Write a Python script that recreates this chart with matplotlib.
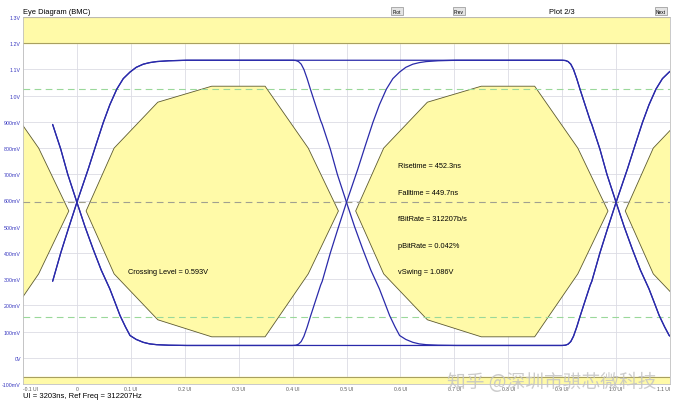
import numpy as np
import matplotlib
matplotlib.use("Agg")
from matplotlib import pyplot as plt
from matplotlib.patches import Polygon

plt.rcParams['font.family'] = ['Liberation Sans', 'DejaVu Sans']

# ---- data ----
x_ticks = [-0.1, 0, 0.1, 0.2, 0.3, 0.4, 0.5, 0.6, 0.7, 0.8, 0.9, 1.0, 1.1]
x_labels = ['-0.1 UI', '0', '0.1 UI', '0.2 UI', '0.3 UI', '0.4 UI', '0.5 UI',
            '0.6 UI', '0.7 UI', '0.8 UI', '0.9 UI', '1.0 UI', '1.1 UI']
y_ticks = [-0.1, 0, 0.1, 0.2, 0.3, 0.4, 0.5, 0.6, 0.7, 0.8, 0.9, 1.0, 1.1, 1.2, 1.3]
y_labels = ['-100mV', '0V', '100mV', '200mV', '300mV', '400mV', '500mV', '600mV',
            '700mV', '800mV', '900mV', '1.0V', '1.1V', '1.2V', '1.3V']

# edge shapes, time relative to crossing (UI) and volts
rise_dt = [-0.100, -0.094, -0.089, -0.084, -0.079, -0.073, -0.067, -0.058, -0.048, -0.045,
           -0.030, -0.017, 0.0, 0.021, 0.035, 0.049, 0.061, 0.074, 0.086, 0.0985,
           0.110, 0.123, 0.135, 0.148, 0.170, 0.204]
rise_v = [0.047, 0.048, 0.052, 0.062, 0.082, 0.117, 0.157, 0.214, 0.277, 0.292,
          0.400, 0.485, 0.593, 0.720, 0.810, 0.898, 0.965, 1.025, 1.065, 1.090,
          1.108, 1.120, 1.126, 1.130, 1.133, 1.135]
fall_dt = [-0.100, -0.094, -0.089, -0.084, -0.079, -0.073, -0.067, -0.058, -0.048, -0.045,
           -0.030, -0.017, 0.0, 0.015, 0.030, 0.045, 0.061, 0.070, 0.080, 0.090,
           0.0985, 0.110, 0.123, 0.135, 0.148, 0.170, 0.204]
fall_v = [1.135, 1.134, 1.130, 1.120, 1.100, 1.065, 1.025, 0.968, 0.905, 0.890,
          0.796, 0.700, 0.593, 0.500, 0.415, 0.335, 0.263, 0.215, 0.161, 0.118,
          0.085, 0.070, 0.059, 0.053, 0.050, 0.048, 0.047]

# BMC traces: list of (crossing time, edge type)
traces = [
    [(0.0, 'r'), (1.0, 'f')],
    [(0.0, 'r'), (0.5, 'f'), (1.0, 'r')],
    [(0.0, 'f'), (1.0, 'r')],
    [(0.0, 'f'), (0.5, 'r'), (1.0, 'f')],
]
trace_start = -0.045

# eye mask (one eye), UI and volts
mask_x = [0.017, 0.069, 0.150, 0.250, 0.349, 0.429, 0.485, 0.429, 0.349, 0.250, 0.150, 0.069]
mask_v = [0.560, 0.800, 0.975, 1.036, 1.036, 0.800, 0.560, 0.320, 0.080, 0.080, 0.145, 0.320]
mask_offsets = [-0.5, 0.0, 0.5, 1.0]

crossing_level = 0.593
level_90 = 1.027
level_10 = 0.157

stats = ['Risetime = 452.3ns', 'Falltime = 449.7ns', 'fBitRate = 312207b/s',
         'pBitRate = 0.042%', 'vSwing = 1.086V']
stats_v = [0.735, 0.632, 0.530, 0.430, 0.331]

# ---- figure ----
fig = plt.figure(figsize=(6.82, 4.10), dpi=100)
ax = fig.add_axes([23 / 682, 1 - 385 / 410, (670 - 23) / 682, (385 - 18) / 410])
ax.set_xlim(-0.1, 1.1)
ax.set_ylim(-0.1, 1.3)

yellow = '#fffaa8'
olive = '#a8a060'

ax.set_xticks(x_ticks)
ax.set_xticklabels(x_labels, fontsize=3.6, color='#555555')
ax.set_yticks(y_ticks)
ax.set_yticklabels(y_labels, fontsize=3.8, color='#3838c0')
ax.tick_params(length=0, pad=1.5)
xl = ax.get_xticklabels()
xl[0].set_horizontalalignment('left')
xl[-1].set_horizontalalignment('right')
ax.grid(True, color='#dcdce4', lw=0.6)
ax.set_axisbelow(True)
for s in ax.spines.values():
    s.set_color('#c0c0c0')
    s.set_linewidth(0.6)

# limit bands
ax.axhspan(1.2, 1.3, color=yellow, zorder=1)
ax.axhspan(-0.1, -0.075, color=yellow, zorder=1)
for lv in [1.2, 1.3, -0.075]:
    ax.axhline(lv, color=olive, lw=0.8, zorder=2)

# masks
for off in mask_offsets:
    pts = np.column_stack([np.array(mask_x) + off, mask_v])
    ax.add_patch(Polygon(pts, closed=True, fc=yellow, ec='#5c5a30', lw=0.6, zorder=2))

# reference levels
ax.axhline(crossing_level, color='#a0a090', lw=0.8, ls=(0, (6, 4)), zorder=3)
ax.axhline(level_90, color='#9ad89a', lw=0.8, ls=(0, (6, 4)), zorder=3)
ax.axhline(level_10, color='#9ad89a', lw=0.8, ls=(0, (6, 4)), zorder=3)

# traces
edges = {'r': (rise_dt, rise_v), 'f': (fall_dt, fall_v)}
for tr in traces:
    xs, vs = [], []
    for t0, kind in tr:
        dts, vv = edges[kind]
        for dt, v in zip(dts, vv):
            if t0 + dt >= trace_start:
                xs.append(t0 + dt)
                vs.append(v)
    ax.plot(xs, vs, color='#2a2aaa', lw=0.9, zorder=4, solid_capstyle='round')

# annotations
ax.text(0.095, 0.331, 'Crossing Level = %.3fV' % crossing_level, fontsize=5.3,
        va='center', ha='left', zorder=5)
for s, v in zip(stats, stats_v):
    ax.text(0.595, v, s, fontsize=5.3, va='center', ha='left', zorder=5)

# header / footer
fig.text(23 / 682, 1 - 12 / 410, 'Eye Diagram (BMC)', fontsize=5.4, va='center')
fig.text(562 / 682, 1 - 12 / 410, 'Plot 2/3', fontsize=5.4, va='center', ha='center')
for lab, xp in [('Plot', 397), ('Prev', 459), ('Next', 661)]:
    fig.text(xp / 682, 1 - 12 / 410, lab, fontsize=3.4, va='center', ha='center',
             bbox=dict(boxstyle='square,pad=0.3', fc='#e4e4e4', ec='#909090', lw=0.5))
fig.text(23 / 682, 1 - 397 / 410, 'UI = 3203ns, Ref Freq = 312207Hz', fontsize=5.5,
         va='center')

# watermark
fig.text(552 / 682, 1 - 383 / 410, '知乎 @深圳市骐芯微科技', fontsize=13.5,
         family=['Noto Sans CJK SC', 'DejaVu Sans'], color='#c4c4c4', alpha=0.85,
         ha='center', va='center', zorder=10)

fig.savefig('out.png', dpi=100)
